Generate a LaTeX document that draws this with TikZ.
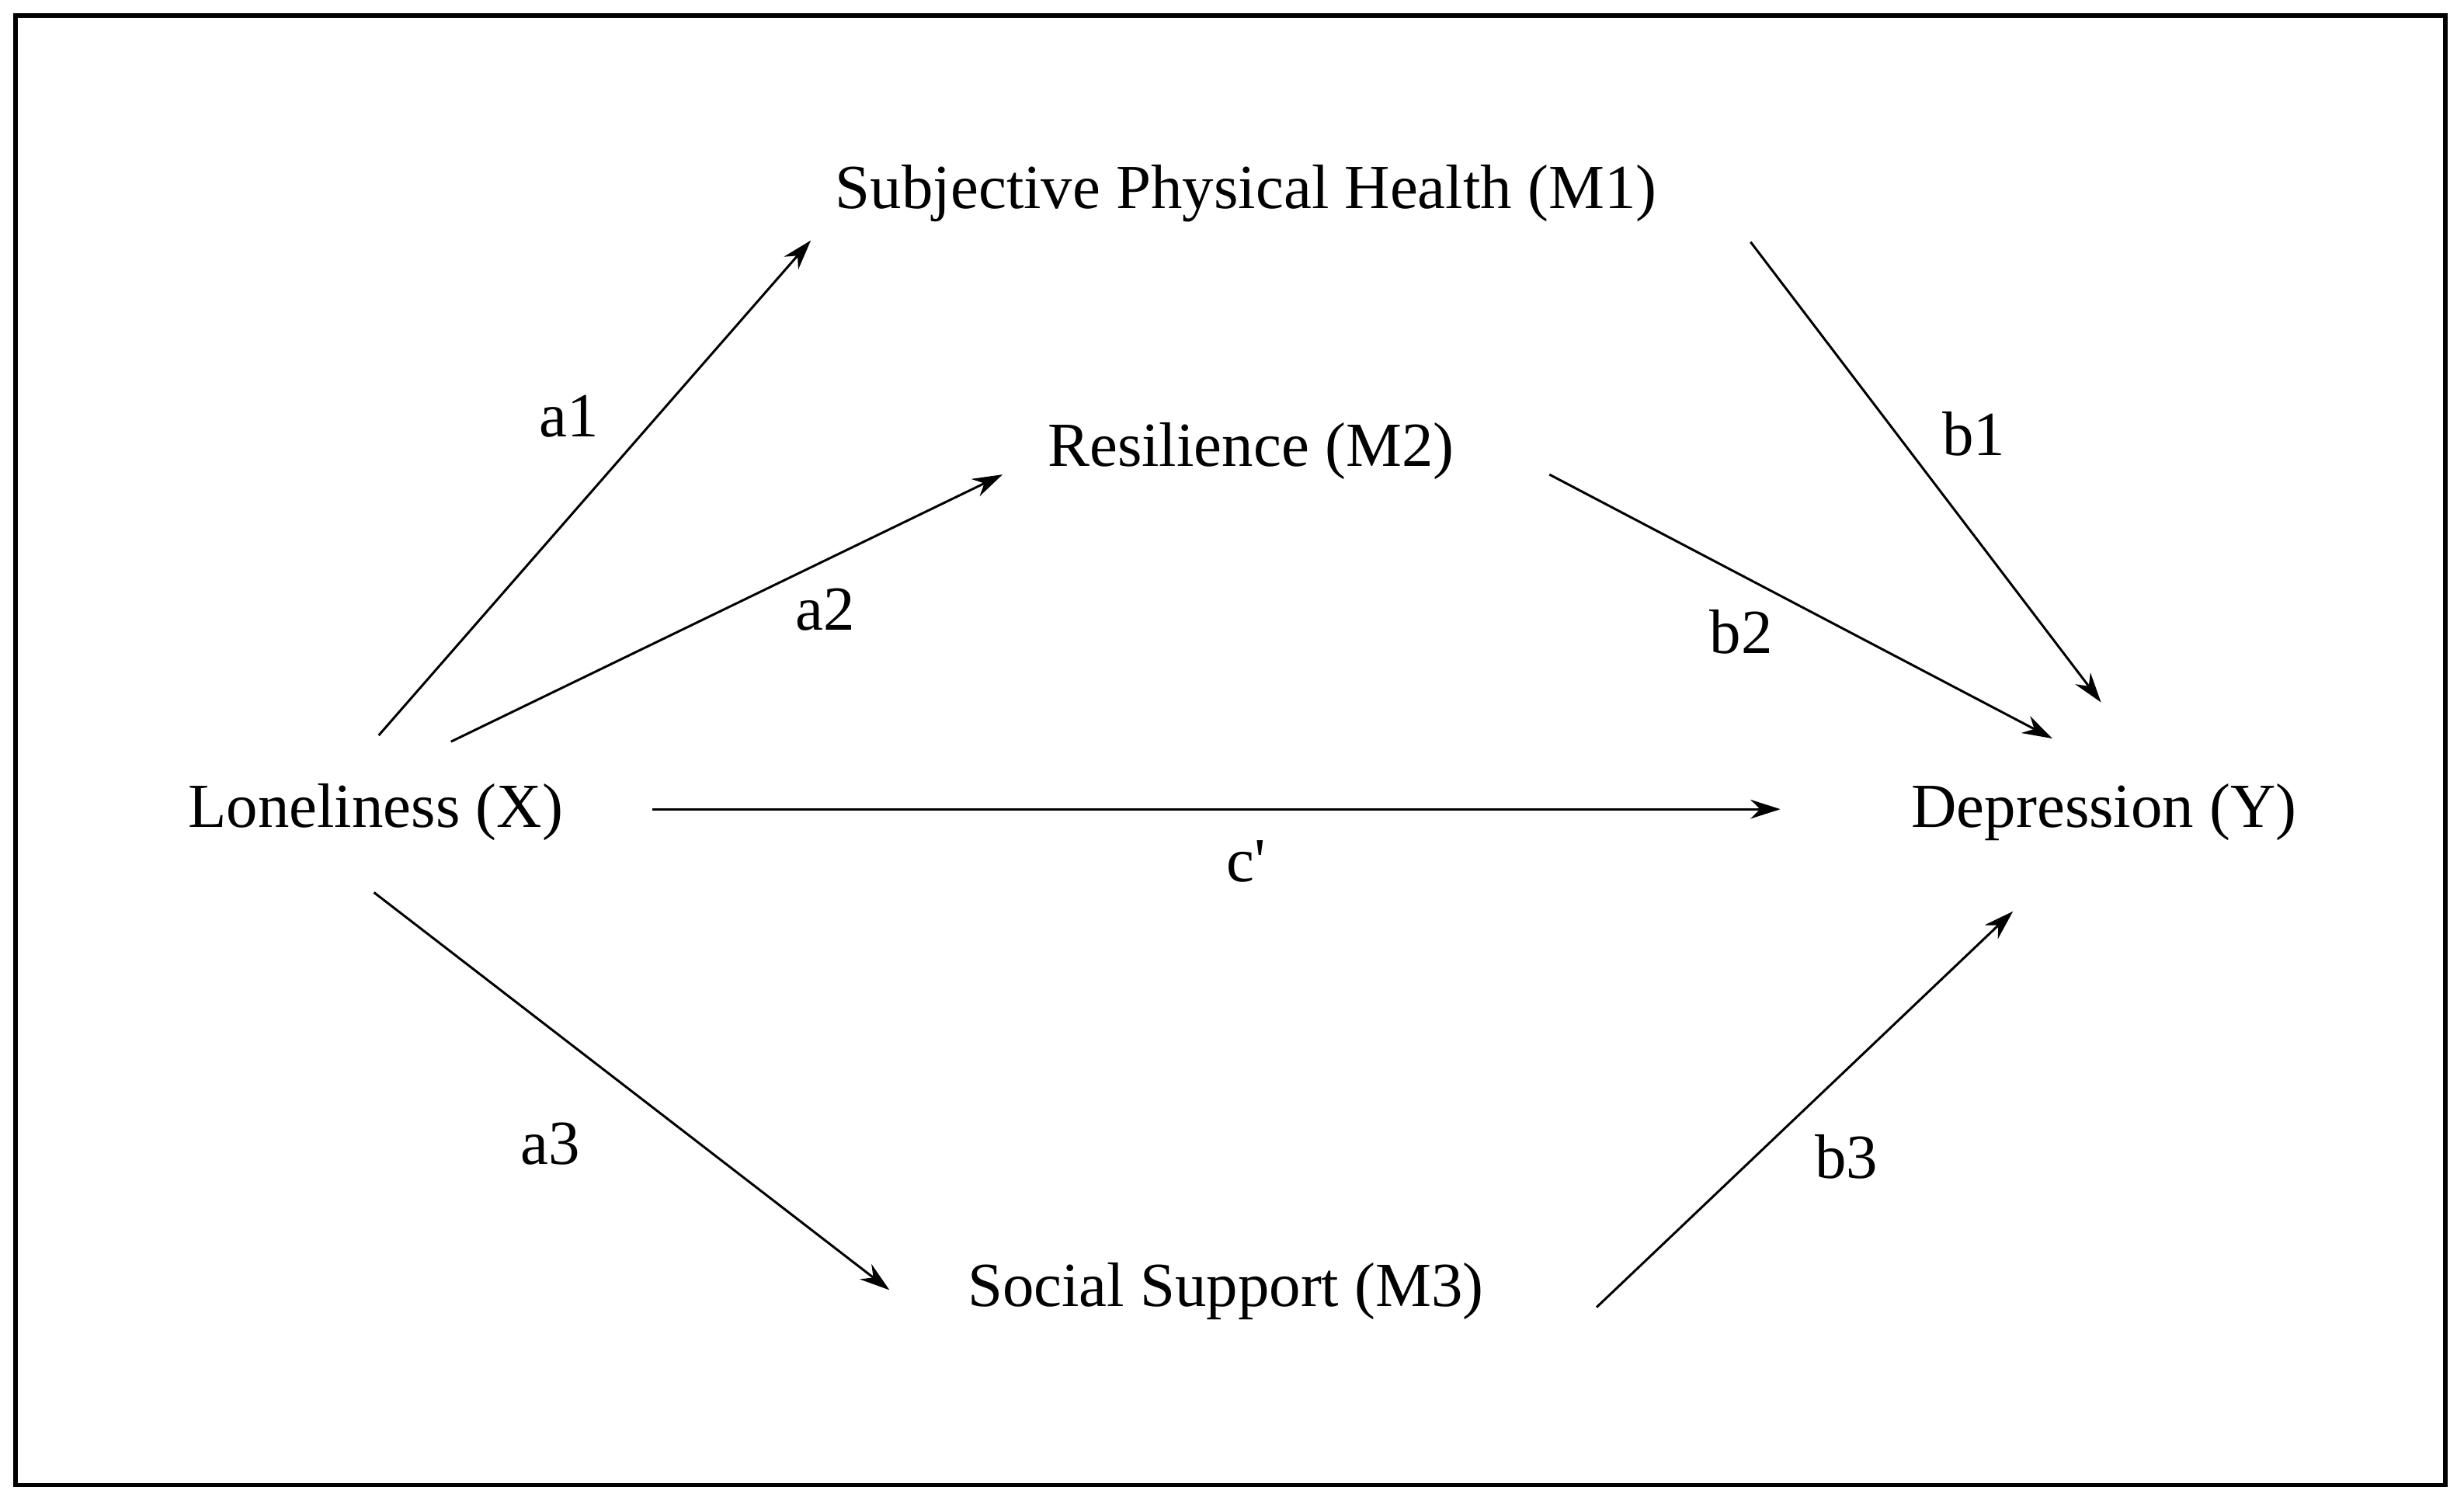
\documentclass[tikz,border=0pt]{standalone}
\usepackage{fontspec}
\setmainfont{Liberation Serif}
\usetikzlibrary{arrows.meta}
\begin{document}
\begin{tikzpicture}[x=0.020236cm,y=-0.020236cm,
  lbl/.style={inner sep=0pt,font=\fontsize{23}{27}\selectfont},
  arr/.style={line width=0.85pt,-{Stealth[length=11pt,width=7pt]}}]
\useasboundingbox (0,0) rectangle (1568,957);
\draw[line width=1.6pt] (10,10) rectangle (1556,945);
\node[lbl] (m1) at (793,123) {Subjective Physical Health (M1)};
\node[lbl] (m2) at (796,287) {Resilience (M2)};
\node[lbl] (x) at (239,517) {Loneliness (X)};
\node[lbl] (y) at (1339,517) {Depression (Y)};
\node[lbl] (m3) at (780,822) {Social Support (M3)};
\coordinate (a1s) at (241,468); \coordinate (a1e) at (516,153);
\coordinate (a2s) at (287,472); \coordinate (a2e) at (638,302);
\coordinate (cs) at (415,515); \coordinate (ce) at (1133,515);
\coordinate (a3s) at (238,568); \coordinate (a3e) at (566,821);
\coordinate (b1s) at (1114,154); \coordinate (b1e) at (1337,447);
\coordinate (b2s) at (986,302); \coordinate (b2e) at (1306,470);
\coordinate (b3s) at (1016,832); \coordinate (b3e) at (1281,580);
\draw[arr] (a1s) -- (a1e);
\draw[arr] (a2s) -- (a2e);
\draw[arr] (cs) -- (ce);
\draw[arr] (a3s) -- (a3e);
\draw[arr] (b1s) -- (b1e);
\draw[arr] (b2s) -- (b2e);
\draw[arr] (b3s) -- (b3e);
\node[lbl] (la1) at (362,265) {a1};
\node[lbl] (la2) at (525,388) {a2};
\node[lbl] (lc) at (793,548) {c\textquotesingle};
\node[lbl] (la3) at (350,728) {a3};
\node[lbl] (lb1) at (1256,276) {b1};
\node[lbl] (lb2) at (1108,402) {b2};
\node[lbl] (lb3) at (1175,736) {b3};
\end{tikzpicture}
\end{document}
